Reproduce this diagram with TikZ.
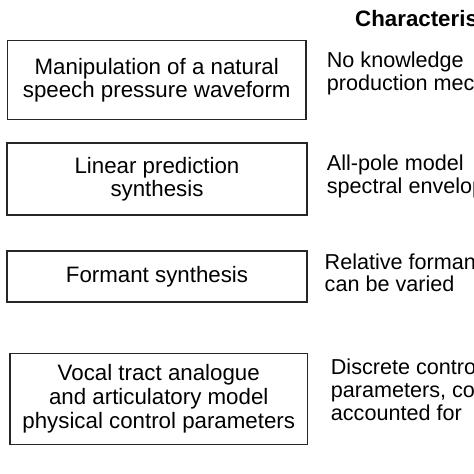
\documentclass[tikz,border=0pt]{standalone}
\usepackage{fontspec}
\setmainfont{Liberation Sans}
\begin{document}
\begin{tikzpicture}[x=1pt,y=-1pt,
  methodbox/.style={draw=black!85, line width=1.8pt, inner sep=0pt, align=center,
    font=\fontsize{22.3}{23.5}\selectfont},
  desc/.style={anchor=base west, inner sep=0pt, font=\fontsize{21.6}{23}\selectfont},
  head/.style={anchor=base west, inner sep=0pt, font=\fontsize{22.3}{24}\selectfont\bfseries}]
\useasboundingbox (0,0) rectangle (474,474);
\clip (0,0) rectangle (474,474);
\fill[white] (0,0) rectangle (474,474);
\node[methodbox, minimum width=298.5pt, minimum height=79pt] (b1) at (156.75,80) {Manipulation of a natural\\speech pressure waveform};
\node[methodbox, minimum width=300pt, minimum height=72pt] (b2) at (157,179) {Linear prediction\\synthesis};
\node[methodbox, minimum width=300pt, minimum height=51pt] (b3) at (157,276.5) {Formant synthesis};
\node[methodbox, minimum width=297.5pt, minimum height=91pt, font=\fontsize{22.3}{24.2}\selectfont] (b4) at (158.75,399) {Vocal tract analogue\\and articulatory model\\physical control parameters};
\node[head] (h) at (355,26) {Characteristics};
\node[desc] (d1a) at (326.7,67) {No knowledge};
\node[desc] (d1b) at (326.7,90.5) {production mechanism};
\node[desc] (d2a) at (326.7,170.7) {All-pole model};
\node[desc] (d2b) at (326.7,193.5) {spectral envelope};
\node[desc] (d3a) at (324.5,269) {Relative formant};
\node[desc] (d3b) at (324.5,291.7) {can be varied};
\node[desc] (d4a) at (330.7,374.3) {Discrete control};
\node[desc] (d4b) at (330.7,397.5) {parameters, co};
\node[desc] (d4c) at (330.7,420.5) {accounted for};
\end{tikzpicture}
\end{document}
